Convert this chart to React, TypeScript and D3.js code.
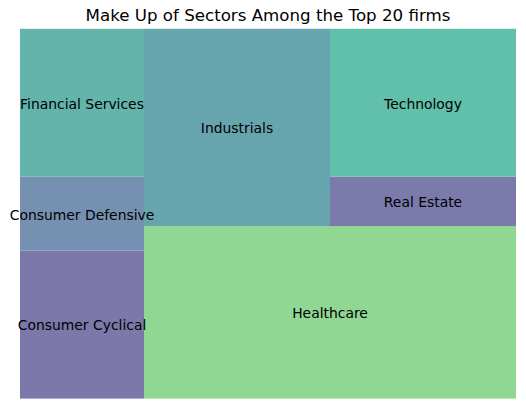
import React from "react";
import * as d3 from "d3";

const labels = ["Consumer Cyclical", "Consumer Defensive", "Financial Services", "Healthcare", "Industrials", "Real Estate", "Technology"];
const counts = [2, 1, 2, 7, 4, 1, 3];
const colors = ["#7c78a9", "#7690b1", "#63b5ab", "#8fd793", "#66a5ae", "#7b7aab", "#61c0a9"];
const title = "Make Up of Sectors Among the Top 20 firms";

type R = { x: number; y: number; dx: number; dy: number };

function layoutrow(s: number[], x: number, y: number, dx: number, dy: number): R[] {
  const w = d3.sum(s) / dy;
  const out: R[] = [];
  for (const v of s) { out.push({ x, y, dx: w, dy: v / w }); y += v / w; }
  return out;
}
function layoutcol(s: number[], x: number, y: number, dx: number, dy: number): R[] {
  const h = d3.sum(s) / dx;
  const out: R[] = [];
  for (const v of s) { out.push({ x, y, dx: v / h, dy: h }); x += v / h; }
  return out;
}
function layout(s: number[], x: number, y: number, dx: number, dy: number) {
  return dx >= dy ? layoutrow(s, x, y, dx, dy) : layoutcol(s, x, y, dx, dy);
}
function leftover(s: number[], x: number, y: number, dx: number, dy: number): [number, number, number, number] {
  const a = d3.sum(s);
  if (dx >= dy) { const w = a / dy; return [x + w, y, dx - w, dy]; }
  const h = a / dx; return [x, y + h, dx, dy - h];
}
function worst(s: number[], x: number, y: number, dx: number, dy: number) {
  return d3.max(layout(s, x, y, dx, dy), (r) => Math.max(r.dx / r.dy, r.dy / r.dx)) as number;
}
function squarify(s: number[], x: number, y: number, dx: number, dy: number): R[] {
  if (s.length === 0) return [];
  if (s.length === 1) return layout(s, x, y, dx, dy);
  let i = 1;
  while (i < s.length && worst(s.slice(0, i), x, y, dx, dy) >= worst(s.slice(0, i + 1), x, y, dx, dy)) i++;
  const cur = s.slice(0, i);
  const rest = s.slice(i);
  const [lx, ly, ldx, ldy] = leftover(cur, x, y, dx, dy);
  return layout(cur, x, y, dx, dy).concat(squarify(rest, lx, ly, ldx, ldy));
}

export default function App() {
  const W = 526, H = 409;
  const total = d3.sum(counts);
  const sizes = counts.map((c) => (c * 100 * 100) / total);
  const rects = squarify(sizes, 0, 0, 100, 100);
  const xs = d3.scaleLinear().domain([0, 100]).range([20, 516]);
  const ys = d3.scaleLinear().domain([0, 100]).range([398.6, 28.8]);
  return (
    <svg width={W} height={H} style={{ position: "absolute", left: 0, top: 0 }} fontFamily="DejaVu Sans">
      <rect width={W} height={H} fill="#fff" />
      {rects.map((r, i) => (
        <rect key={"r" + i} x={xs(r.x)} y={ys(r.y + r.dy)} width={xs(r.x + r.dx) - xs(r.x)} height={ys(r.y) - ys(r.y + r.dy)} fill={colors[i]} />
      ))}
      {rects.map((r, i) => (
        <text key={"t" + i} x={xs(r.x + r.dx / 2)} y={ys(r.y + r.dy / 2)} dy="0.42em" textAnchor="middle" fontSize={13.9} fill="#000">
          {labels[i]}
        </text>
      ))}
      <text x={(xs(0) + xs(100)) / 2} y={20.5} textAnchor="middle" fontSize={16.67} fill="#000">{title}</text>
    </svg>
  );
}
